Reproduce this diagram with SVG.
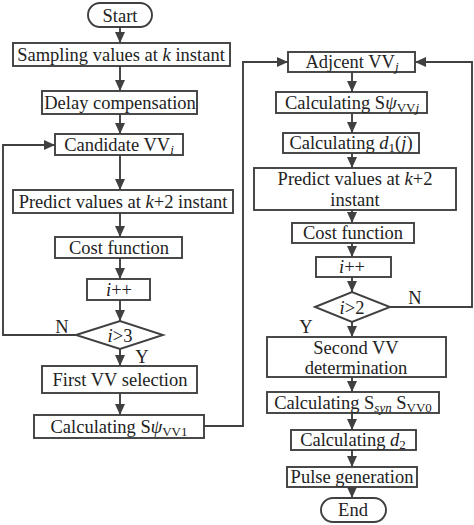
<svg xmlns="http://www.w3.org/2000/svg" width="474" height="525" viewBox="0 0 474 525">
<defs>
<marker id="ah" markerUnits="userSpaceOnUse" markerWidth="12" markerHeight="12" viewBox="0 0 12 12" refX="11" refY="6" orient="auto">
<path d="M0,1 L11,6 L0,11 Z" fill="#404040"/>
</marker>
<style>
.b{fill:#fff;stroke:#404040;stroke-width:1.9}
.a{fill:none;stroke:#404040;stroke-width:1.9;marker-end:url(#ah)}
text{font-family:"Liberation Serif","Times New Roman",serif;font-size:18.5px;fill:#222;text-anchor:middle}
.s{font-size:13px}
</style>
</defs>
<rect width="474" height="525" fill="#fff"/>
<g id="connectors">
<path class="a" d="M120,27V43"/>
<path class="a" d="M120,66V91"/>
<path class="a" d="M120,114V134"/>
<path class="a" d="M120,155V190"/>
<path class="a" d="M120,213V237"/>
<path class="a" d="M120,258V279"/>
<path class="a" d="M120,300V321"/>
<path class="a" d="M120,349V366"/>
<path class="a" d="M120,393V415"/>
<path class="a" d="M76,335H3V145H55"/>
<path class="a" d="M204,426H243V62H288"/>
<path class="a" d="M352,72V92"/>
<path class="a" d="M352,113V133"/>
<path class="a" d="M352,153V168"/>
<path class="a" d="M352,210V223"/>
<path class="a" d="M352,243V257"/>
<path class="a" d="M352,277V292"/>
<path class="a" d="M352,322V337"/>
<path class="a" d="M352,377V392"/>
<path class="a" d="M352,413V430"/>
<path class="a" d="M352,450V467"/>
<path class="a" d="M352,487V498"/>
<path class="a" d="M390,307H472V62H415"/>
<text x="62" y="333">N</text>
<text x="142" y="363">Y</text>
<text x="415" y="304">N</text>
<text x="306" y="333">Y</text>
</g>
<g id="start"><rect class="b" x="88" y="3" width="64" height="24" rx="12"/><text x="120" y="21.5">Start</text></g>
<g id="sampling"><rect class="b" x="13" y="43" width="217" height="23"/><text x="121" y="60.5">Sampling values at <tspan font-style="italic">k</tspan> instant</text></g>
<g id="delay"><rect class="b" x="42" y="91" width="155" height="23"/><text x="120" y="108.5">Delay compensation</text></g>
<g id="candidate"><rect class="b" x="55" y="134" width="128" height="21"/><text x="119" y="151">Candidate VV<tspan class="s" font-style="italic" dy="3">i</tspan></text></g>
<g id="predict1"><rect class="b" x="13" y="190" width="220" height="23"/><text x="123" y="207.5">Predict values at <tspan font-style="italic">k</tspan>+2 instant</text></g>
<g id="cost1"><rect class="b" x="55" y="237" width="127" height="21"/><text x="119" y="254">Cost function</text></g>
<g id="inc1"><rect class="b" x="87" y="279" width="63" height="21"/><text x="119" y="295.5" font-style="italic">i<tspan font-style="normal">++</tspan></text></g>
<g id="dec1"><polygon class="b" points="76,335 120,321 163,335 120,349"/><text x="120" y="341.5"><tspan font-style="italic">i</tspan>&gt;3</text></g>
<g id="first"><rect class="b" x="42" y="366" width="155" height="27"/><text x="120" y="386">First VV selection</text></g>
<g id="calc1"><rect class="b" x="34" y="415" width="170" height="23"/><text x="119" y="432.5">Calculating S<tspan font-style="italic">ψ</tspan><tspan class="s" dy="3">VV1</tspan></text></g>
<g id="adjcent"><rect class="b" x="288" y="52" width="127" height="20"/><text x="352" y="68">Adjcent VV<tspan class="s" font-style="italic" dy="3">j</tspan></text></g>
<g id="calcj"><rect class="b" x="276" y="92" width="151" height="21"/><text x="352" y="108.5">Calculating S<tspan font-style="italic">ψ</tspan><tspan class="s" dy="3">VV<tspan font-style="italic">j</tspan></tspan></text></g>
<g id="d1"><rect class="b" x="283" y="133" width="136" height="20"/><text x="351" y="149">Calculating <tspan font-style="italic">d</tspan><tspan class="s" dy="3">1</tspan><tspan dy="-3">(<tspan font-style="italic">j</tspan>)</tspan></text></g>
<g id="predict2"><rect class="b" x="254" y="168" width="202" height="42"/><text x="355" y="185">Predict values at <tspan font-style="italic">k</tspan>+2</text><text x="355" y="205.5">instant</text></g>
<g id="cost2"><rect class="b" x="292" y="223" width="122" height="20"/><text x="353" y="239">Cost function</text></g>
<g id="inc2"><rect class="b" x="316" y="257" width="75" height="20"/><text x="352" y="273" font-style="italic">i<tspan font-style="normal">++</tspan></text></g>
<g id="dec2"><polygon class="b" points="315,307 352,292 390,307 352,322"/><text x="352" y="313.5"><tspan font-style="italic">i</tspan>&gt;2</text></g>
<g id="second"><rect class="b" x="267" y="337" width="179" height="40"/><text x="356" y="354">Second VV</text><text x="356" y="373.5">determination</text></g>
<g id="ssyn"><rect class="b" x="267" y="392" width="172" height="21"/><text x="353" y="408.5">Calculating S<tspan class="s" font-style="italic" dy="3">syn</tspan><tspan dy="-3"> S</tspan><tspan class="s" dy="3">VV0</tspan></text></g>
<g id="d2"><rect class="b" x="291" y="430" width="125" height="20"/><text x="353" y="446">Calculating <tspan font-style="italic">d</tspan><tspan class="s" dy="3">2</tspan></text></g>
<g id="pulse"><rect class="b" x="287" y="467" width="130" height="20"/><text x="352" y="483">Pulse generation</text></g>
<g id="end"><rect class="b" x="321" y="498" width="65" height="24" rx="12"/><text x="353" y="516">End</text></g>
</svg>
